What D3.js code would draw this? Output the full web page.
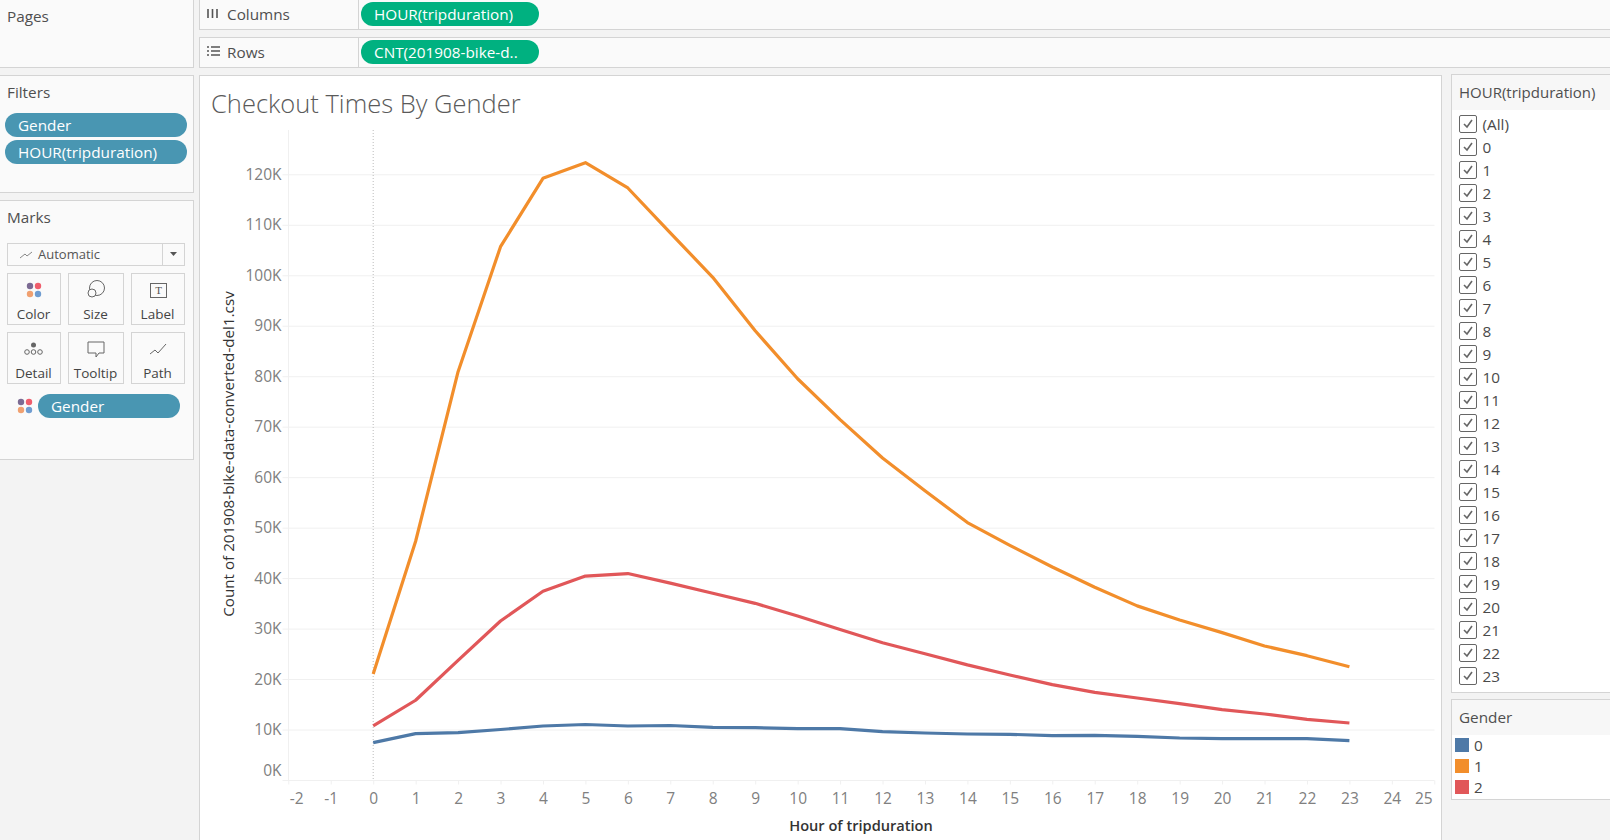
<!DOCTYPE html>
<html><head><meta charset="utf-8">
<script src="https://cdn.jsdelivr.net/npm/d3@7"></script>
<style>
html,body{margin:0;padding:0;background:#f3f3f3;overflow:hidden}
svg{display:block}
text{font-family:"Open Sans",sans-serif;fill:#4f4f4f}
</style></head><body><svg id="c" width="1610" height="840"></svg>
<script>
const hours=[0,1,2,3,4,5,6,7,8,9,10,11,12,13,14,15,16,17,18,19,20,21,22,23];
const gender0=[7400,9200,9400,10000,10700,11000,10700,10800,10440,10360,10160,10160,9570,9310,9110,9050,8780,8850,8650,8320,8190,8190,8190,7790];
const gender1=[21000,47300,80900,105660,119200,122300,117290,108400,99590,89000,79500,71400,63800,57300,51000,46500,42200,38200,34500,31700,29200,26550,24630,22450];
const gender2=[10700,15800,23700,31500,37400,40400,40900,39000,37000,35000,32500,29800,27200,25000,22800,20800,18900,17370,16250,15120,13930,13080,12020,11290];
const genders=["0","1","2"];
const genderColors=["#4e79a7","#f28e2b","#e15759"];
const yTicks=[0,10000,20000,30000,40000,50000,60000,70000,80000,90000,100000,110000,120000];
const xTicks=[-2,-1,0,1,2,3,4,5,6,7,8,9,10,11,12,13,14,15,16,17,18,19,20,21,22,23,24,25];
const filterItems=["(All)"].concat(hours.map(String));
const seriesList=[gender0,gender1,gender2];

const svg=d3.select("#c");
const UI=15.3;
function panel(x,y,w,h,fill){svg.append("rect").attr("x",x+.5).attr("y",y+.5).attr("width",w).attr("height",h).attr("fill",fill||"#fafafa").attr("stroke","#d4d4d4");}
function label(t,x,y,size,fill,anchor,weight){return svg.append("text").text(t).attr("x",x).attr("y",y).attr("font-size",size).style("fill",fill||"#4f4f4f").attr("text-anchor",anchor||"start").attr("font-weight",weight||400).attr("dominant-baseline","central");}
function pill(t,x,y,w,h,fill){svg.append("rect").attr("x",x).attr("y",y).attr("width",w).attr("height",h).attr("rx",h/2).attr("fill",fill);label(t,x+13,y+h/2,UI,"#fff");}

// shelves and side panels
panel(-2,-2,195,69);label("Pages",7,16,UI);
panel(199,-2,1420,31);panel(199,37,1420,30);
svg.append("path").attr("d","M358.5 0V29M358.5 37V67").attr("stroke","#d4d4d4");
label("Columns",227,14,UI);label("Rows",227,52,UI);
svg.append("path").attr("d","M208 9v9M212.5 9v9M217 9v9").attr("stroke","#555").attr("stroke-width",1.6);
svg.append("path").attr("d","M211 47h9M211 51h9M211 55h9M207 47h2M207 51h2M207 55h2").attr("stroke","#555").attr("stroke-width",1.4);
pill("HOUR(tripduration)",361,2,178,24,"#00b180");
pill("CNT(201908-bike-d..",361,40,178,24,"#00b180");

panel(-2,75,195,117);label("Filters",7,92,UI);
pill("Gender",5,113,182,24,"#4996b2");pill("HOUR(tripduration)",5,140,182,24,"#4996b2");

panel(-2,200,195,259);label("Marks",7,217,UI);
panel(7,243,177,22,"#fafafa");
svg.append("path").attr("d","M162.5 243V265").attr("stroke","#d4d4d4");
svg.append("path").attr("d","M170 252h7l-3.5 4z").attr("fill","#555");
svg.append("path").attr("d","M20 258l5-4 2 2 5-4").attr("fill","none").attr("stroke","#888");
label("Automatic",38,254,13,"#555");
const cards=[["Color",7,273,53],["Size",68,273,55],["Label",131,273,53],["Detail",7,332,53],["Tooltip",68,332,55],["Path",131,332,53]];
cards.forEach(([t,x,y,w])=>{panel(x,y,w,51);label(t,x+w/2,y+41,13.5,"#444","middle");});
function dots(cx,cy,r){[["#7b6a93",-4,-4],["#ef5d6c",4,-4],["#f0a070",-4,4],["#6f9cd0",4,4]].forEach(d=>svg.append("circle").attr("cx",cx+d[1]*r).attr("cy",cy+d[2]*r).attr("r",3.2*r).attr("fill",d[0]));}
dots(34,290,1);dots(25,406,1);
svg.append("circle").attr("cx",97).attr("cy",288).attr("r",7.5).attr("fill","none").attr("stroke","#666");
svg.append("circle").attr("cx",92).attr("cy",293).attr("r",4).attr("fill","#fafafa").attr("stroke","#666");
svg.append("rect").attr("x",150.5).attr("y",283.5).attr("width",16).attr("height",14).attr("fill","none").attr("stroke","#666");
svg.append("text").text("T").attr("x",158.5).attr("y",290).attr("font-size",11).attr("text-anchor","middle").attr("dominant-baseline","central").style("font-family","Liberation Serif");
svg.append("circle").attr("cx",33.5).attr("cy",345).attr("r",2.5).attr("fill","#666");
[27,33.5,40].forEach(x=>svg.append("circle").attr("cx",x).attr("cy",352).attr("r",2.3).attr("fill","none").attr("stroke","#666"));
svg.append("path").attr("d","M88 342h16v11h-5l-3 4v-4h-8z").attr("fill","none").attr("stroke","#666");
svg.append("path").attr("d","M150 354l5-4 3 3 8-9").attr("fill","none").attr("stroke","#666");
pill("Gender",38,394,142,24,"#4996b2");

// chart panel
panel(199,75,1242,770,"#fff");
label("Checkout Times By Gender",211,103,25.5,"#5a5a5a","start",300);

const x=d3.scaleLinear().domain([-2,25]).range([288.3,1434.3]);
const y=d3.scaleLinear().domain([0,120000]).range([780,174.3]);
const fmt=d=>d/1000+"K";

const gy=svg.append("g").attr("transform","translate(288.5,0)")
 .call(d3.axisLeft(y).tickValues(yTicks).tickFormat(fmt).tickSize(6).tickPadding(1));
gy.select(".domain").attr("d","M0 130V780").attr("stroke","#f0f0f0");
gy.selectAll(".tick line").attr("stroke","#f0f0f0");
gy.selectAll(".tick line").clone().attr("x2",1146).attr("x1",0);
gy.selectAll(".tick text").attr("font-size",15.5).style("fill","#808080").attr("dy",null).attr("dominant-baseline","central").attr("y",d=>d===0?-11:-1);

const gx=svg.append("g").attr("transform","translate(0,780.5)")
 .call(d3.axisBottom(x).tickValues(xTicks).tickFormat(d=>String(d)).tickSize(4).tickPadding(5));
gx.select(".domain").attr("d","M283 0H1434").attr("stroke","#f0f0f0");
gx.selectAll(".tick line").attr("stroke","#f0f0f0");
gx.selectAll(".tick text").attr("font-size",15.5).style("fill","#808080").attr("dy",null).attr("y",17.5).attr("dominant-baseline","central")
 .attr("dx",d=>d===-2?8:d===25?-11:0);

svg.append("line").attr("x1",x(0)).attr("x2",x(0)).attr("y1",130).attr("y2",780).attr("stroke","#bbb").attr("stroke-dasharray","1 2");

const line=d3.line().x((d,i)=>x(hours[i])).y(d=>y(d));
svg.selectAll("path.s").data(seriesList).join("path").attr("class","s")
 .attr("d",line).attr("fill","none").attr("stroke-width",3.2)
 .attr("stroke",(d,i)=>genderColors[i]).attr("stroke-linejoin","round");

svg.append("text").text("Count of 201908-bike-data-converted-del1.csv")
 .attr("transform","translate(228,454) rotate(-90)").attr("text-anchor","middle").attr("dominant-baseline","central").attr("font-size",15.2).style("fill","#333");
label("Hour of tripduration",861,825,14.6,"#333","middle",600);

// quick filter panel
panel(1451,74,170,618,"#fff");
svg.append("rect").attr("x",1452).attr("y",75).attr("width",160).attr("height",35).attr("fill","#f7f7f7");
label("HOUR(tripduration)",1459,92,15);
const rows=svg.selectAll("g.r").data(filterItems).join("g").attr("class","r")
 .attr("transform",(d,i)=>`translate(0,${115+i*23})`);
rows.append("rect").attr("x",1459.5).attr("y",.5).attr("width",17).attr("height",17).attr("rx",1.5).attr("fill","#fff").attr("stroke","#666");
rows.append("path").attr("d","M1464 9l3 3 5-7").attr("fill","none").attr("stroke","#666").attr("stroke-width",1.6);
rows.append("text").text(d=>d).attr("x",1482.5).attr("y",9).attr("font-size",UI).attr("dominant-baseline","central").style("fill","#4a4a4a");

// colour legend
panel(1451,699,170,100,"#fff");
svg.append("rect").attr("x",1452).attr("y",700).attr("width",160).attr("height",35).attr("fill","#f7f7f7");
label("Gender",1459,717,UI);
const leg=svg.selectAll("g.l").data(genders).join("g").attr("class","l").attr("transform",(d,i)=>`translate(0,${738+i*21})`);
leg.append("rect").attr("x",1455).attr("y",0).attr("width",14).attr("height",14).attr("fill",(d,i)=>genderColors[i]);
leg.append("text").text(d=>d).attr("x",1474).attr("y",7).attr("font-size",UI).attr("dominant-baseline","central").style("fill","#4a4a4a");
</script></body></html>
